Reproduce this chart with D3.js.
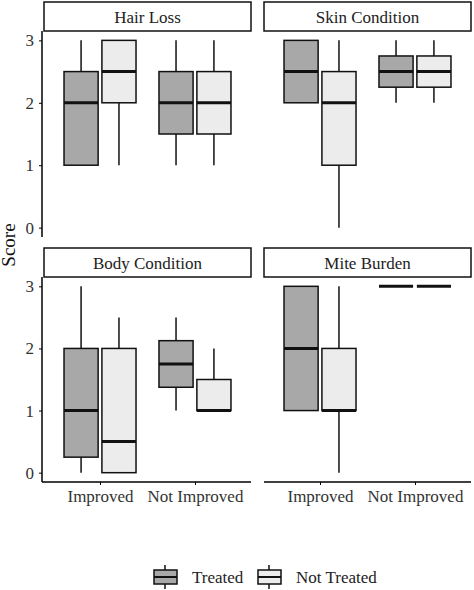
<!DOCTYPE html>
<html>
<head>
<meta charset="utf-8">
<script src="https://cdn.jsdelivr.net/npm/d3@7"></script>
<style>body{margin:0;background:#fff;} text{font-family:"Liberation Serif",serif;}</style>
</head>
<body>
<div id="container"></div>
<script>
const w = 474;
const h = 590;

// data: [min, q1, median, q3, max] for Treated / Not Treated
let panels = ["Hair Loss", "Skin Condition", "Body Condition", "Mite Burden"];
let outcomes = ["Improved", "Not Improved"];
let groups = ["Treated", "Not Treated"];
let yTicks = [0, 1, 2, 3];
let hairLoss = [[1, 1, 2, 2.5, 3], [1, 2, 2.5, 3, 3], [1, 1.5, 2, 2.5, 3], [1, 1.5, 2, 2.5, 3]];
let skinCondition = [[2, 2, 2.5, 3, 3], [0, 1, 2, 2.5, 3], [2, 2.25, 2.5, 2.75, 3], [2, 2.25, 2.5, 2.75, 3]];
let bodyCondition = [[0, 0.25, 1, 2, 3], [0, 0, 0.5, 2, 2.5], [1, 1.375, 1.75, 2.125, 2.5], [1, 1, 1, 1.5, 2]];
let miteBurden = [[1, 1, 2, 3, 3], [0, 1, 1, 2, 3], [3, 3, 3, 3, 3], [3, 3, 3, 3, 3]];
let allStats = [hairLoss, skinCondition, bodyCondition, miteBurden];
let fills = {"Treated": "#a8a8a8", "Not Treated": "#ececec"};

let viz = d3.select("#container").append("svg").attr("width", w).attr("height", h);

let cols = [[44, 251], [264, 471]];
let rows = [{strip: [2, 31], plot: [31, 237]}, {strip: [248, 277], plot: [277, 482]}];

panels.forEach(function(name, i){
    let c = cols[i % 2];
    let r = rows[Math.floor(i / 2)];
    let xScale = d3.scalePoint().domain(outcomes).range(c).padding(0.59);
    let yScale = d3.scaleLinear().domain([-0.15, 3.15]).range([r.plot[1], r.plot[0]]);
    let dodge = d3.scaleBand().domain(groups).range([-36, 36]).paddingInner(0.1);
    let g = viz.append("g");

    // strip
    g.append("rect").attr("x", c[0]).attr("y", r.strip[0]).attr("width", c[1] - c[0]).attr("height", r.strip[1] - r.strip[0])
        .attr("fill", "white").attr("stroke", "#111").attr("stroke-width", 1.5);
    g.append("text").attr("x", (c[0] + c[1]) / 2).attr("y", (r.strip[0] + r.strip[1]) / 2 + 6)
        .attr("text-anchor", "middle").attr("font-size", 17).attr("fill", "#222").text(name);

    if (i % 2 == 0) {
        let yAxis = d3.axisLeft(yScale).tickValues(yTicks).tickFormat(d3.format("d")).tickSize(3).tickPadding(5);
        let ya = g.append("g").attr("transform", "translate(" + (c[0] - 2) + ",0)").call(yAxis);
        ya.attr("font-size", 17).attr("font-family", "Liberation Serif");
        ya.select(".domain").attr("d", "M0," + r.plot[0] + "V" + r.plot[1]).attr("stroke-width", 1.5);
        ya.selectAll("text").attr("fill", "#333");
    }
    if (i >= 2) {
        let xAxis = d3.axisBottom(xScale).tickSize(3).tickPadding(5);
        let xa = g.append("g").attr("transform", "translate(0," + r.plot[1] + ")").call(xAxis);
        xa.attr("font-size", 17).attr("font-family", "Liberation Serif");
        xa.select(".domain").attr("d", "M" + (i == 2 ? c[0] - 2 : c[0]) + ",0H" + c[1]).attr("stroke-width", 1.5);
        xa.selectAll("text").attr("fill", "#333");
    }

    let stats = allStats[i];
    outcomes.forEach(function(o, oi){
        groups.forEach(function(gr, gi){
            let s = stats[oi * 2 + gi];
            let x0 = xScale(o) + dodge(gr);
            let bw = dodge.bandwidth();
            let cx = x0 + bw / 2;
            g.append("line").attr("x1", cx).attr("x2", cx).attr("y1", yScale(s[0])).attr("y2", yScale(s[4]))
                .attr("stroke", "#111").attr("stroke-width", 1.5);
            g.append("rect").attr("x", x0).attr("y", yScale(s[3])).attr("width", bw)
                .attr("height", yScale(s[1]) - yScale(s[3]))
                .attr("fill", fills[gr]).attr("stroke", "#111").attr("stroke-width", 1.5);
            g.append("line").attr("x1", x0).attr("x2", x0 + bw).attr("y1", yScale(s[2])).attr("y2", yScale(s[2]))
                .attr("stroke", "#111").attr("stroke-width", 3);
        });
    });
});

// y label
viz.append("text").attr("transform", "translate(15,245) rotate(-90)").attr("text-anchor", "middle")
    .attr("font-size", 19).attr("fill", "#111").text("Score");

// legend
let lx = [153, 257];
groups.forEach(function(gr, i){
    let lg = viz.append("g").attr("transform", "translate(" + lx[i] + ",565)");
    lg.append("line").attr("x1", 12).attr("x2", 12).attr("y1", 0).attr("y2", 24).attr("stroke", "#111").attr("stroke-width", 1.5);
    lg.append("rect").attr("x", 1).attr("y", 5).attr("width", 23).attr("height", 14)
        .attr("fill", fills[gr]).attr("stroke", "#111").attr("stroke-width", 1.5);
    lg.append("line").attr("x1", 1).attr("x2", 24).attr("y1", 12).attr("y2", 12).attr("stroke", "#111").attr("stroke-width", 2);
    lg.append("text").attr("x", 39).attr("y", 18).attr("font-size", 17).attr("fill", "#222").text(gr);
});
</script>
</body>
</html>
